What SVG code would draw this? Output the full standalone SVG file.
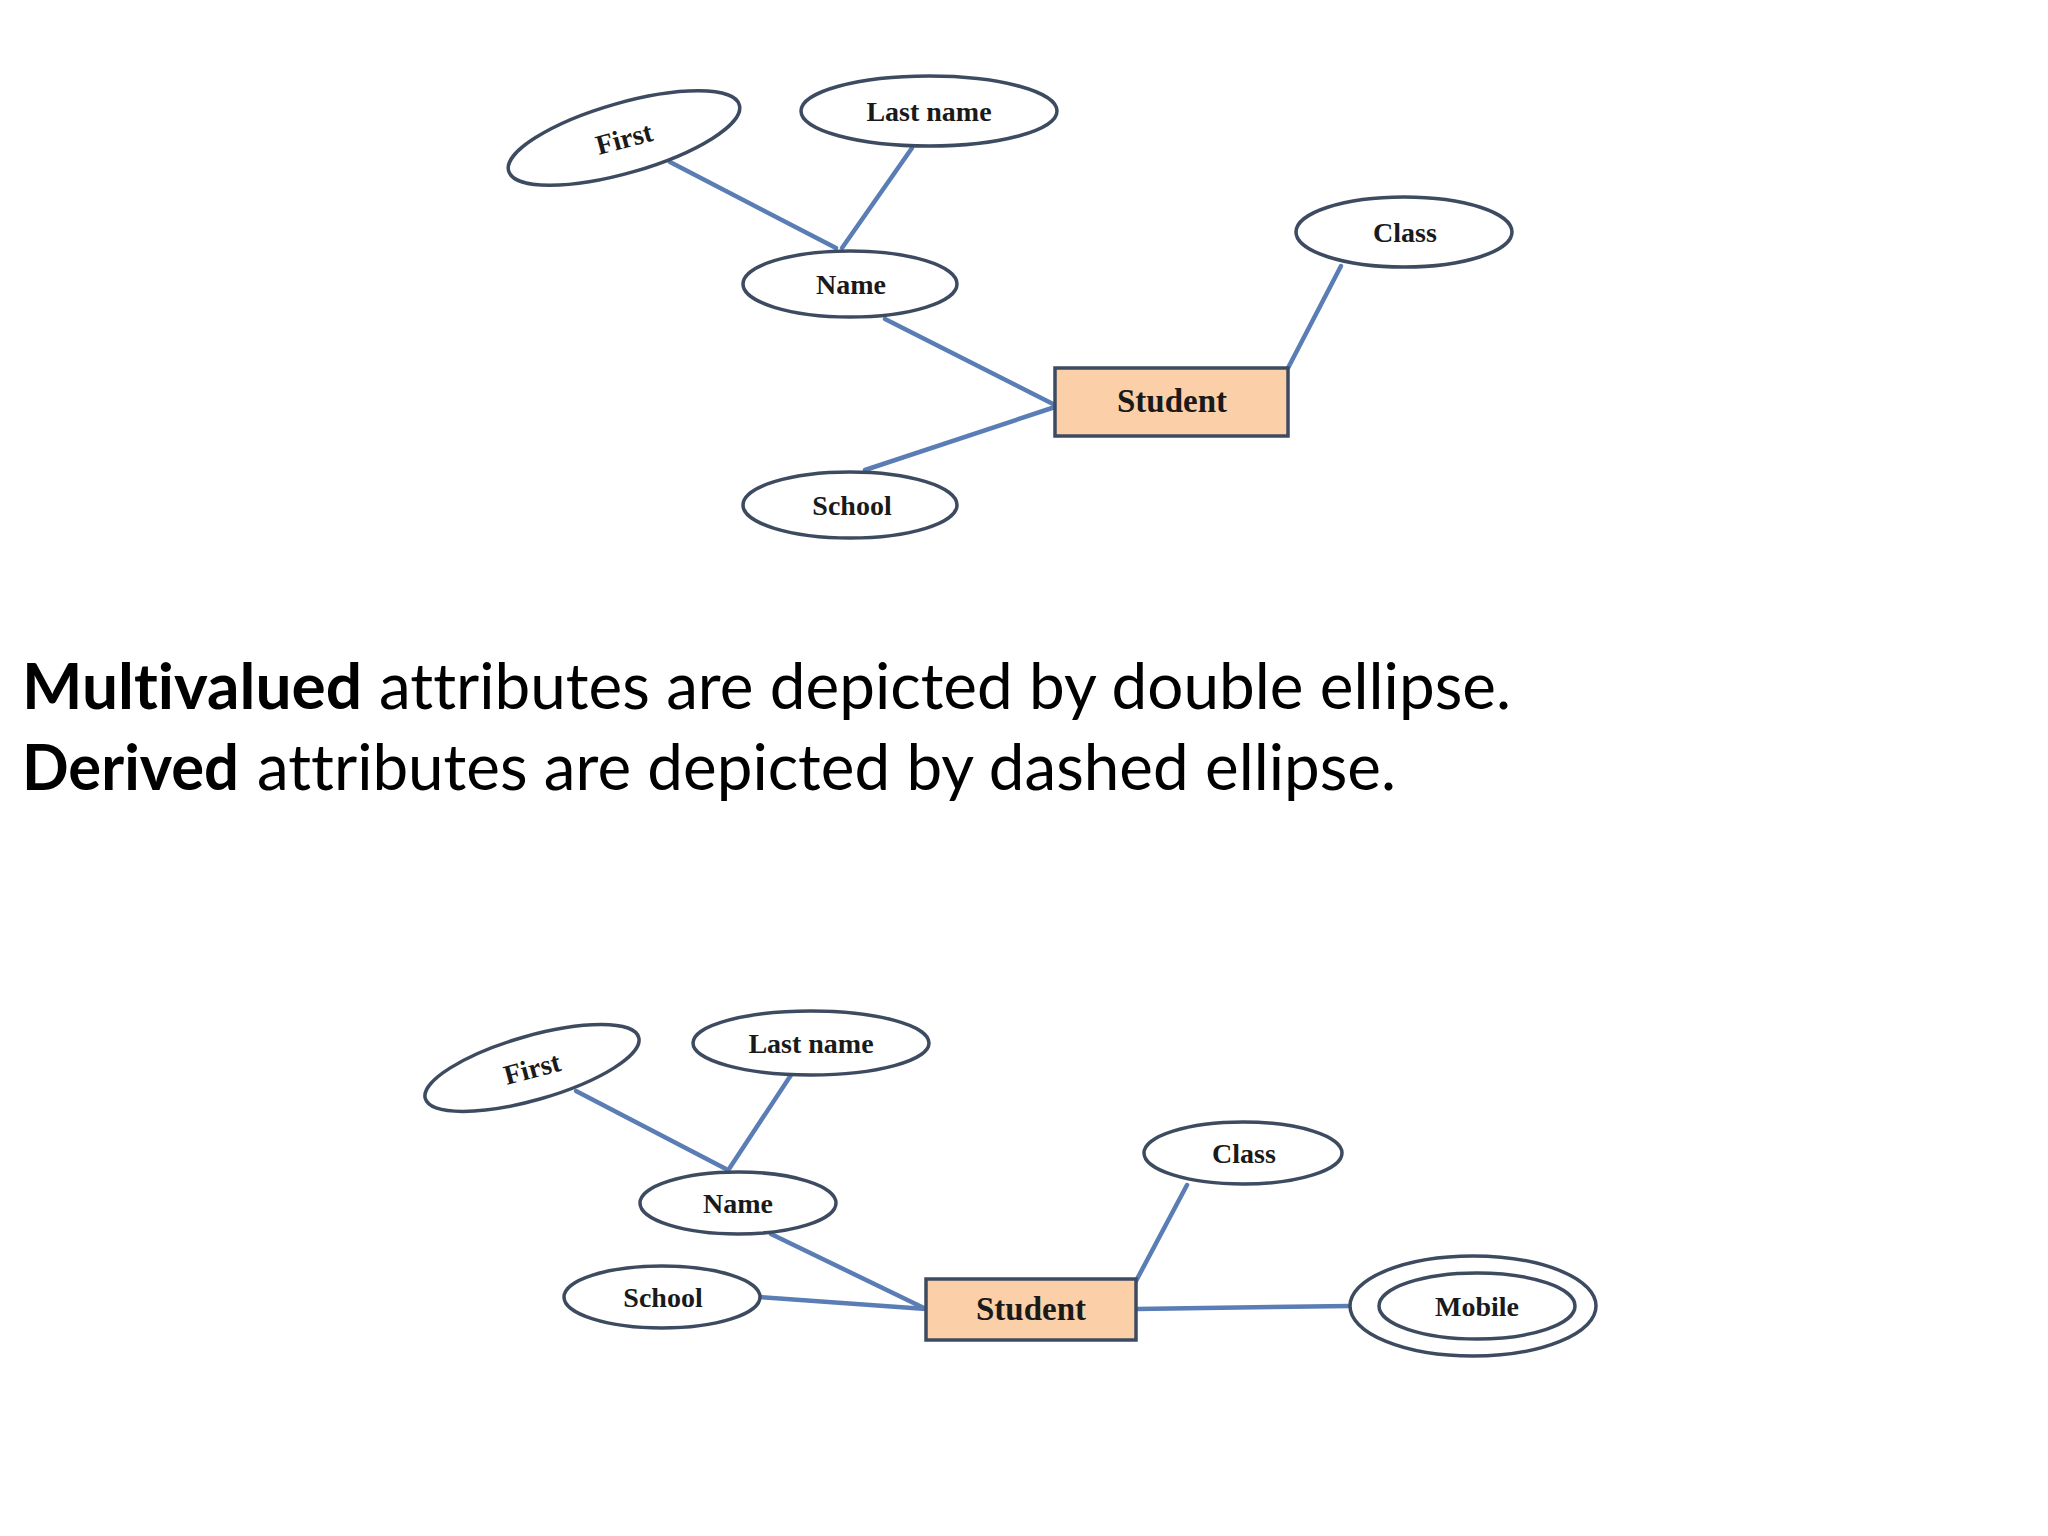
<svg xmlns="http://www.w3.org/2000/svg" width="2048" height="1536" viewBox="0 0 2048 1536">
<style>
.attr{fill:#ffffff;stroke:#3d4b61;stroke-width:3.5}
.ent{fill:#fbd0a8;stroke:#3d4b61;stroke-width:3.5}
.lbl{font-family:"Liberation Serif","Times New Roman",serif;font-weight:bold;font-size:28px;fill:#1a1a1a;text-anchor:middle}
.elbl{font-family:"Liberation Serif","Times New Roman",serif;font-weight:bold;font-size:33px;fill:#1a1a1a;text-anchor:middle}
.conn line{stroke:#5a7db5;stroke-width:4.5;stroke-linecap:round}
.cap{font-family:Lato,"Open Sans",sans-serif;font-size:64px;fill:#000;font-variant-ligatures:none}
.b{font-weight:bold}
</style>
<rect width="2048" height="1536" fill="#ffffff"/>

<!-- Top diagram -->
<g id="top-connectors" class="conn">
<line x1="670" y1="162" x2="836" y2="248"/>
<line x1="912" y1="148" x2="842" y2="248"/>
<line x1="885" y1="319" x2="1055" y2="405"/>
<line x1="865" y1="470" x2="1055" y2="407"/>
<line x1="1341" y1="266" x2="1288" y2="368"/>
</g>
<g id="t-first"><ellipse class="attr" cx="624" cy="138" rx="120" ry="35" transform="rotate(-16 624 138)"/><text class="lbl" x="624" y="148" transform="rotate(-15 624 138)">First</text></g>
<g id="t-lastname"><ellipse class="attr" cx="929" cy="111" rx="128" ry="35"/><text class="lbl" x="929" y="121">Last name</text></g>
<g id="t-name"><ellipse class="attr" cx="850" cy="284" rx="107" ry="33"/><text class="lbl" x="851" y="294">Name</text></g>
<g id="t-school"><ellipse class="attr" cx="850" cy="505" rx="107" ry="33"/><text class="lbl" x="852" y="515">School</text></g>
<g id="t-class"><ellipse class="attr" cx="1404" cy="232" rx="108" ry="35"/><text class="lbl" x="1405" y="242">Class</text></g>
<g id="t-student"><rect class="ent" x="1055" y="368" width="233" height="68"/><text class="elbl" x="1172" y="412">Student</text></g>

<!-- Caption -->
<g id="caption">
<text class="cap b" x="22" y="709" textLength="340" lengthAdjust="spacingAndGlyphs">Multivalued</text>
<text class="cap" x="379" y="709" textLength="1132" lengthAdjust="spacingAndGlyphs">attributes are depicted by double ellipse.</text>
<text class="cap b" x="22" y="790" textLength="217" lengthAdjust="spacingAndGlyphs">Derived</text>
<text class="cap" x="257" y="790" textLength="1139" lengthAdjust="spacingAndGlyphs">attributes are depicted by dashed ellipse.</text>
</g>

<!-- Bottom diagram -->
<g id="bottom-connectors" class="conn">
<line x1="576" y1="1091" x2="726" y2="1169"/>
<line x1="791" y1="1075" x2="729" y2="1169"/>
<line x1="771" y1="1234" x2="926" y2="1309"/>
<line x1="759" y1="1297" x2="926" y2="1309"/>
<line x1="1187" y1="1185" x2="1136" y2="1281"/>
<line x1="1136" y1="1309" x2="1350" y2="1306"/>
</g>
<g id="b-first"><ellipse class="attr" cx="532" cy="1068" rx="111" ry="32" transform="rotate(-16 532 1068)"/><text class="lbl" x="532" y="1078" transform="rotate(-15 532 1068)">First</text></g>
<g id="b-lastname"><ellipse class="attr" cx="811" cy="1043" rx="118" ry="32"/><text class="lbl" x="811" y="1053">Last name</text></g>
<g id="b-name"><ellipse class="attr" cx="738" cy="1203" rx="98" ry="31"/><text class="lbl" x="738" y="1213">Name</text></g>
<g id="b-school"><ellipse class="attr" cx="662" cy="1297" rx="98" ry="31"/><text class="lbl" x="663" y="1307">School</text></g>
<g id="b-class"><ellipse class="attr" cx="1243" cy="1153" rx="99" ry="31"/><text class="lbl" x="1244" y="1163">Class</text></g>
<g id="b-student"><rect class="ent" x="926" y="1279" width="210" height="61"/><text class="elbl" x="1031" y="1320">Student</text></g>
<g id="b-mobile"><ellipse class="attr" cx="1473" cy="1306" rx="123" ry="50"/><ellipse class="attr" cx="1477" cy="1306" rx="98" ry="33"/><text class="lbl" x="1477" y="1316">Mobile</text></g>
</svg>
